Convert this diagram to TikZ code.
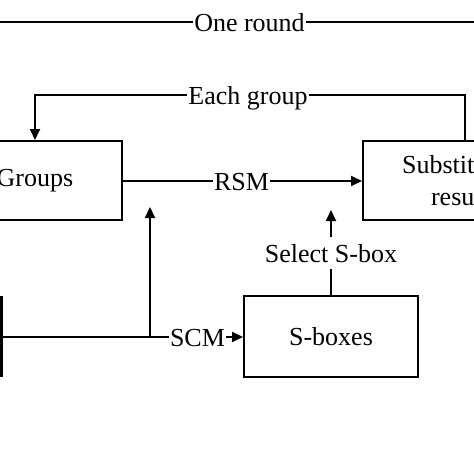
\documentclass[tikz,border=0pt]{standalone}
\usepackage{fontspec}
\setmainfont{Liberation Serif}
\usetikzlibrary{arrows.meta}
\begin{document}
\begin{tikzpicture}[x=1pt,y=-1pt,
  every node/.style={font=\fontsize{26}{32}\selectfont},
  blk/.style={draw, line width=2pt, inner sep=0pt, align=center},
  lbl/.style={inner xsep=1pt, inner ysep=1pt, text height=18pt, text depth=0pt},
  ln/.style={line width=2pt},
  arr/.style={line width=2pt, -{Triangle[length=11pt,width=10pt]}}]
\useasboundingbox (0,0) rectangle (474,474);
% boxes
\node[blk, minimum width=174pt, minimum height=79pt] (grp) at (35,180.5) {Groups};
\node[blk, minimum width=204pt, minimum height=79pt] (sub) at (465,180.5) {Substitution\\results};
\node[blk, minimum width=174pt, minimum height=81pt] (sbx) at (331,336.5) {S-boxes};
% one round
\coordinate (oL) at (-10,22);
\coordinate (oR) at (484,22);
\node[lbl] (one) at (249.5,22) {One round};
\draw[ln] (oL) -- (one) -- (oR);
% each group loop
\coordinate (eR) at (465,95);
\coordinate (eL) at (35,95);
\node[lbl] (each) at (248,95) {Each group};
\draw[ln] (sub.north) -- (eR) -- (each);
\draw[arr] (each) -- (eL) -- (grp.north);
% RSM
\node[lbl] (rsm) at (241.5,181) {RSM};
\draw[ln] (grp.east |- rsm) -- (rsm);
\draw[arr] (rsm) -- (sub.west |- rsm);
% left bar and SCM
\coordinate (barT) at (1.5,296);
\coordinate (barB) at (1.5,377);
\draw[line width=3.6pt] (barT) -- (barB);
\coordinate (bar) at (1.5,337);
\coordinate (jn) at (150,337);
\coordinate (up1) at (150,207);
\node[lbl] (scm) at (197.5,337) {SCM};
\draw[ln] (bar) -- (jn) -- (scm);
\draw[arr] (jn) -- (up1);
\draw[arr] (scm) -- (sbx.west |- scm);
% select S-box
\node[lbl, inner ysep=7pt] (sel) at (331,253) {Select S-box};
\coordinate (up2) at (331,210);
\draw[ln] (sbx.north) -- (sel.south);
\draw[arr] (sel.north) -- (up2);
\end{tikzpicture}
\end{document}
